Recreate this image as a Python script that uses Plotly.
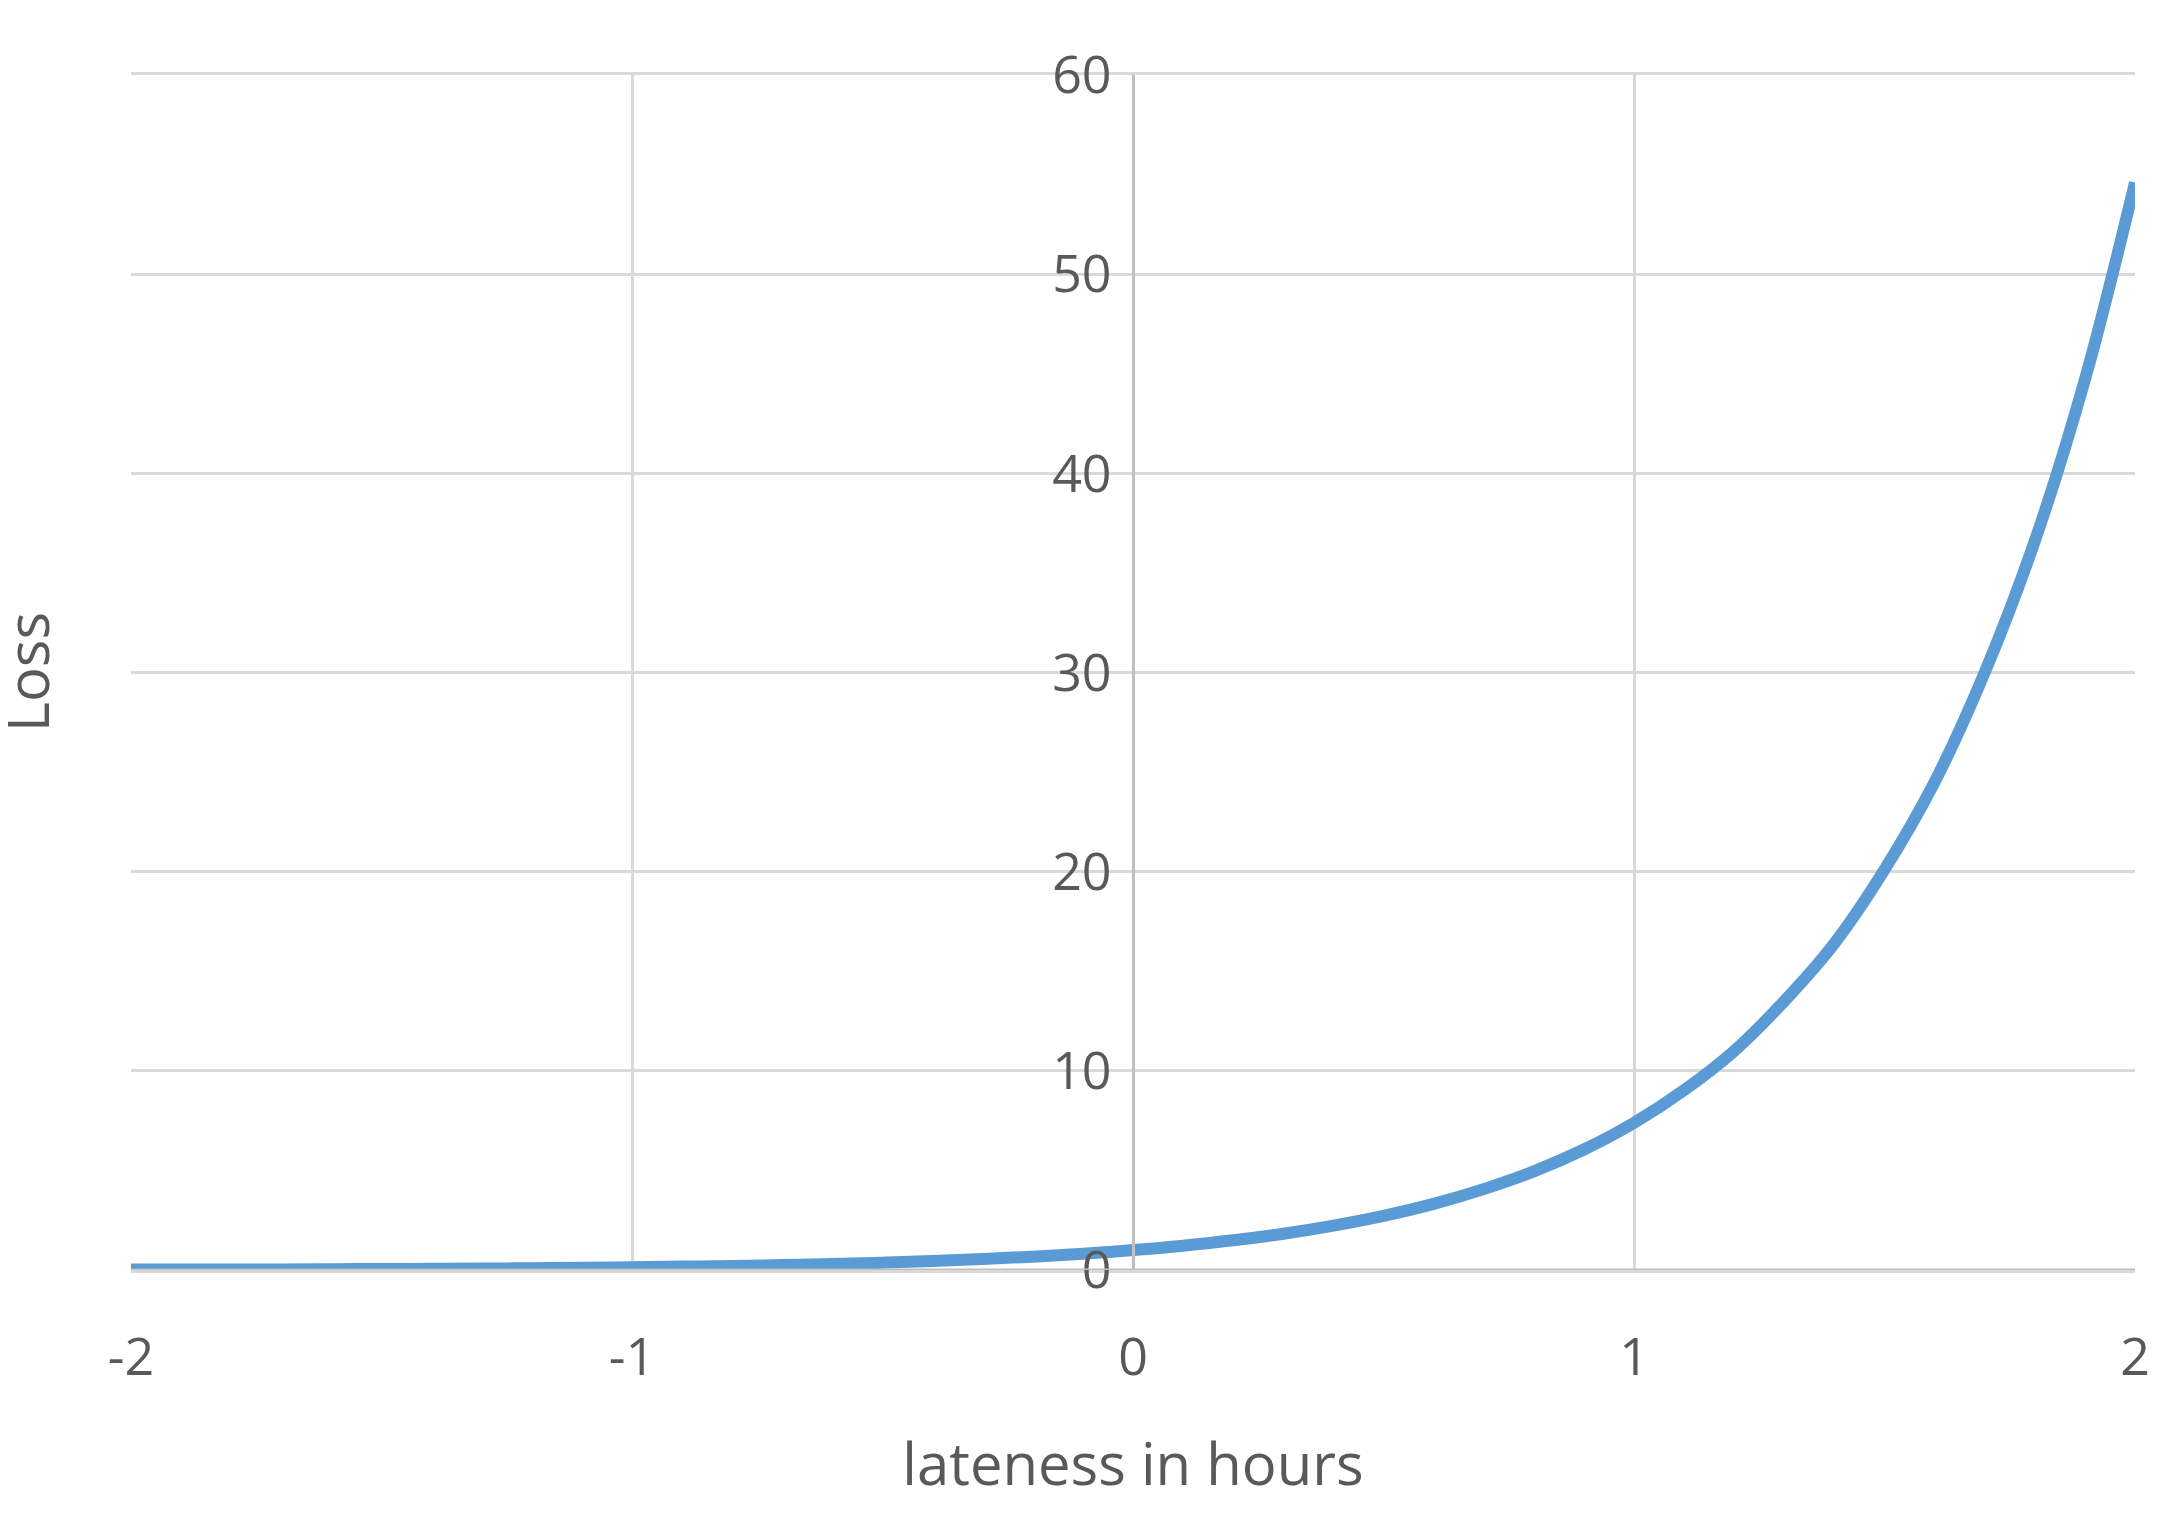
import plotly.graph_objects as go

lateness = [-2.0,-1.9,-1.8,-1.7,-1.6,-1.5,-1.4,-1.3,-1.2,-1.1,-1.0,-0.9,-0.8,-0.7,-0.6,-0.5,-0.4,-0.3,-0.2,-0.1,
            0.0,0.1,0.2,0.3,0.4,0.5,0.6,0.7,0.8,0.9,1.0,1.1,1.2,1.3,1.4,1.5,1.6,1.7,1.8,1.9,2.0]
loss = [0.02,0.02,0.03,0.03,0.04,0.05,0.06,0.07,0.09,0.11,0.14,0.17,0.2,0.25,0.3,0.37,0.45,0.55,0.67,0.82,
        1.0,1.22,1.49,1.82,2.23,2.72,3.32,4.06,4.95,6.05,7.39,9.03,11.0,13.5,16.4,20.1,24.5,30.0,36.6,44.7,54.6]
x_ticks = [-2, -1, 0, 1, 2]
x_labels = ["-2", "-1", "0", "1", "2"]
y_ticks = [0, 10, 20, 30, 40, 50, 60]

fig = go.Figure(go.Scatter(x=lateness, y=loss, mode="lines", line=dict(color="#5B9BD5", width=12, shape="spline")))
fig.update_layout(
    width=2176, height=1522, paper_bgcolor="white", plot_bgcolor="white",
    margin=dict(l=123, r=49, t=67, b=260), showlegend=False,
    font=dict(family="Open Sans", color="#595959", size=52),
    xaxis=dict(range=[-2, 2], tickvals=x_ticks, ticktext=x_labels, showgrid=True, gridcolor="#d9d9d9", gridwidth=3,
               zeroline=False, showline=True, mirror=True, linecolor="#d9d9d9", linewidth=3,
               ticks="", ticklabelstandoff=40,
               title=dict(text="lateness in hours", font=dict(size=58), standoff=55)),
    yaxis=dict(range=[0, 60], tickvals=y_ticks, showgrid=True, gridcolor="#d9d9d9", gridwidth=3,
               zeroline=False, showline=False, ticks="", showticklabels=False),
    yaxis2=dict(range=[0, 60], tickvals=y_ticks, overlaying="y", anchor="free", position=0.5,
                showgrid=False, zeroline=False, showline=True, linecolor="#bfbfbf", linewidth=3,
                ticks="", ticklabelstandoff=10),
    shapes=[dict(type="line", xref="x", yref="y", x0=-2, x1=2, y0=0, y1=0, line=dict(color="#bfbfbf", width=3))],
    annotations=[dict(text="Loss", xref="paper", yref="paper", x=-0.052, y=0.5, textangle=-90,
                      showarrow=False, font=dict(size=58), xanchor="center", yanchor="middle")],
)
fig.add_trace(go.Scatter(x=[None], y=[None], yaxis="y2", showlegend=False, hoverinfo="skip"))
fig.write_html("out.html")
